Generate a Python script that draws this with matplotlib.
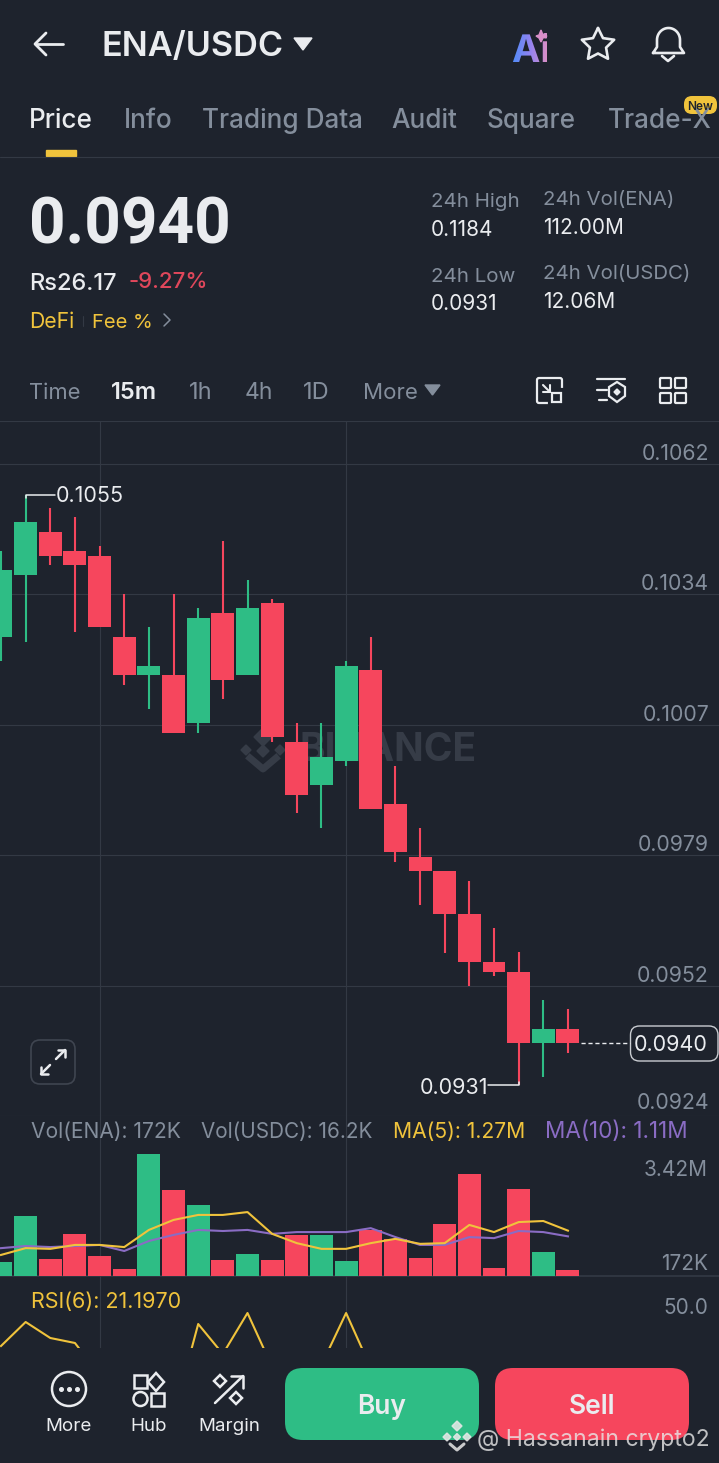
import numpy as np
import matplotlib
matplotlib.use("Agg")
import matplotlib.pyplot as plt
from matplotlib.font_manager import FontProperties
from matplotlib.patches import FancyBboxPatch, PathPatch, Polygon, Circle, Rectangle
from matplotlib.textpath import TextPath
from matplotlib.transforms import Affine2D

plt.rcParams['font.family'] = ['Inter', 'DejaVu Sans']

W, H = 719, 1463
BG = '#1e232d'
GREEN = '#2ebd85'
RED = '#f6465d'
GRAY = '#848e9c'
WHITE = '#eaecef'
YELLOW = '#f0c33c'
PURPLE = '#8a6cc4'
GRID = '#333944'
MARK = '#363c47'

opens = [.10254, .10385, .10476, .10436, .10426, .10254, .10174, .10174, .10072, .10305, .10174, .10326,
         .10032, .09941, .09992, .10184, .09901, .09788, .09759, .09668, .09566, .09545, .09395, .09424]
highs = [.10436, .10554, .10527, .10508, .10447, .10345, .10275, .10345, .10315, .10457, .10375, .10334,
         .10072, .10072, .10203, .10254, .09981, .09850, .09759, .09737, .09638, .09587, .09486, .09467]
lows = [.10203, .10243, .10406, .10265, .10275, .10152, .10102, .10051, .10051, .10123, .10174, .10032,
        .09881, .09850, .09981, .09890, .09778, .09687, .09585, .09515, .09536, .09306, .09323, .09373]
closes = [.10396, .10498, .10426, .10406, .10275, .10174, .10193, .10051, .10294, .10163, .10315, .10042,
          .09920, .10000, .10193, .09890, .09799, .09759, .09668, .09566, .09545, .09395, .09424, .09395]
volumes = [0.39, 1.68, 0.48, 1.18, 0.56, 0.20, 3.42, 2.41, 1.99, 0.45, 0.62, 0.45,
           1.15, 1.15, 0.42, 1.29, 1.04, 0.50, 1.46, 2.86, 0.22, 2.44, 0.67, 0.172]
ma5 = [0.59, 0.78, 0.76, 0.87, 0.87, 0.81, 1.29, 1.57, 1.71, 1.71, 1.79, 1.18,
       0.92, 0.76, 0.76, 0.92, 1.04, 0.90, 0.92, 1.43, 1.23, 1.51, 1.54, 1.27]
ma10 = [0.78, 0.84, 0.81, 0.84, 0.87, 0.70, 0.98, 1.15, 1.29, 1.26, 1.29, 1.18,
        1.23, 1.23, 1.23, 1.34, 1.09, 0.87, 0.87, 1.09, 1.06, 1.26, 1.23, 1.11]
rsi = [41, 53, 45, 42.5, 26.5, 25, 10, 6, 52, 37, 57.5, 30.5,
       25, 31.5, 57.5, 30, 28, 25, 23, 20, 21, 20, 21, 21.197]
price_ticks = [.1062, .10344, .10068, .09792, .09516, .0924]
time_marks = [4, 14]
tabs = ['Price', 'Info', 'Trading Data', 'Audit', 'Square', 'Trade-X']
tab_x = [29, 124, 202, 391, 487, 608]
frames = ['Time', '15m', '1h', '4h', '1D', 'More']
frame_x = [29, 111, 189, 245, 303, 363]
frame_size = [15.8, 17, 17, 16.5, 17, 16]

fig = plt.figure(figsize=(W / 100, H / 100), dpi=100, facecolor=BG)
xs = np.arange(len(opens))
XLIM = (-1 / 24.65, 718 / 24.65)


def pane(top, bottom, z=1):
    a = fig.add_axes([0, 1 - bottom / H, 1, (bottom - top) / H], zorder=z)
    a.patch.set_alpha(0)
    a.set_xlim(*XLIM)
    a.axis('off')
    return a


# things that sit behind the candles
under = fig.add_axes([0, 0, 1, 1], zorder=0)
under.set_xlim(0, W)
under.set_ylim(H, 0)
under.axis('off')
under.text(300, 761, 'BINANCE', fontsize=28, fontweight='bold', color=MARK, va='baseline')
for cx, cy, r in [(263, 737, 9), (246, 750, 5), (263, 751, 6), (280, 750, 5)]:
    under.add_patch(Polygon([(cx - r, cy), (cx, cy - r), (cx + r, cy), (cx, cy + r)], color=MARK))
under.plot([250, 263, 276], [758, 769, 758], color=MARK, lw=5)

# price pane
ax = pane(421, 1116)
scale = 47246.0
ax.set_ylim(.0924, .0924 + 695 / scale)
for p in price_ticks:
    ax.axhline(p, color=GRID, lw=0.8, zorder=1)
    off = 7 if p == price_ticks[-1] else 4
    ax.annotate(f'{p:.4f}', (709 / W, p), xycoords=('axes fraction', 'data'), xytext=(0, off * 0.72),
                textcoords='offset points', ha='right', va='baseline', color=GRAY, fontsize=15.3)
ax.axhline(.0924 + 695 / scale, color=GRID, lw=0.8)
for t in time_marks:
    ax.axvline(t, color=GRID, lw=0.8, zorder=1)
for i in xs:
    col = GREEN if closes[i] >= opens[i] else RED
    ax.vlines(i, lows[i], highs[i], color=col, lw=1.5, zorder=2)
    ax.bar(i, abs(closes[i] - opens[i]), bottom=min(opens[i], closes[i]), width=0.93, color=col, zorder=3)

# volume pane
vol = pane(1116, 1276)
vol.set_ylim(0, 160 * 0.028)
for t in time_marks:
    vol.axvline(t, color=GRID, lw=0.8, zorder=1)
vol.axhline(0, color=GRID, lw=1.2, clip_on=False)
bar_cols = [GREEN if c >= o else RED for o, c in zip(opens, closes)]
vol.bar(xs, volumes, width=0.93, color=bar_cols, zorder=2)
vol.plot(xs, ma10, color=PURPLE, lw=1.5, zorder=3)
vol.plot(xs, ma5, color=YELLOW, lw=1.5, zorder=4)

# rsi pane, line is cut at the pane bottom
rs = pane(1276, 1348)
rs.set_ylim(40, 76)
for t in time_marks:
    rs.axvline(t, color=GRID, lw=0.8, zorder=1)
rs.plot(xs, rsi, color=YELLOW, lw=1.5, zorder=2)

# overlay in screen pixels
ui = fig.add_axes([0, 0, 1, 1], zorder=5)
ui.set_xlim(0, W)
ui.set_ylim(H, 0)
ui.axis('off')
ui.patch.set_alpha(0)


def txt(x, y, s, size, color=WHITE, weight='normal', ha='left', **kw):
    return ui.text(x, y, s, fontsize=size, color=color, fontweight=weight, ha=ha, va='baseline', **kw)


def line(px, py, color=WHITE, lw=1.6, **kw):
    ui.plot(px, py, color=color, lw=lw, solid_capstyle='round', solid_joinstyle='round', **kw)


def box(x0, y0, x1, y1, r, **kw):
    ui.add_patch(FancyBboxPatch((x0 + r, y0 + r), x1 - x0 - 2 * r, y1 - y0 - 2 * r,
                                boxstyle=f'round,pad={r},rounding_size={r}', **kw))


# header
line([36, 63], [44, 44], lw=2)
line([46, 35, 46], [33, 44, 55], lw=2)
txt(102, 56, 'ENA/USDC', 24.7, WHITE, 'semibold')
ui.add_patch(Polygon([(294, 38), (312, 38), (303, 50)], color=WHITE))
# Ai mark with its blue to pink fill
ai_path = TextPath((0, 0), 'Ai', size=38, prop=FontProperties(family='Inter', weight='bold'))
ai_path = ai_path.transformed(Affine2D().scale(1, -1).translate(512, 62))
ai_clip = PathPatch(ai_path, transform=ui.transData, fc='none', ec='none')
ui.add_patch(ai_clip)
grad = ui.imshow(np.linspace(0, 1, 64).reshape(1, -1), extent=(512, 547, 62, 33), aspect='auto',
                 cmap=matplotlib.colors.LinearSegmentedColormap.from_list('ai', ['#4f8cf7', '#8f83f2', '#d98fc8']))
grad.set_clip_path(ai_clip)
ui.set_xlim(0, W)
ui.set_ylim(H, 0)
ui.add_patch(Polygon([(541, 30), (543, 35), (547, 36), (543, 38), (541, 42), (539, 38), (536, 36), (539, 35)], color='#d98fc8'))
star_a = np.linspace(-np.pi / 2, 1.5 * np.pi, 11)
star_r = np.array([17, 8.5] * 5 + [17])
line(598 + star_r * np.cos(star_a), 45 + star_r * np.sin(star_a), lw=1.9)
bell_t = np.linspace(np.pi, 2 * np.pi, 30)
line(np.r_[653, 657, 657 + 11.5 * (1 + np.cos(bell_t)), 680, 684, 653],
     np.r_[53, 47, 40 + 12 * np.sin(bell_t), 47, 53, 53], lw=1.9)
line([662, 668, 674], [56, 61, 56], lw=1.9)

# tabs
for s, x in zip(tabs, tab_x):
    txt(x, 128, s, 18.8, WHITE if s == 'Price' else GRAY, 'medium')
ui.add_patch(Rectangle((46, 150), 30, 6, color=YELLOW))
line([0, 719], [157, 157], color=GRID, lw=0.8)
box(684, 96, 717, 114, 8, color=YELLOW, lw=0)
txt(700.5, 110, 'New', 8.5, '#1e232d', 'semibold', ha='center')

# price block
txt(29, 244, '0.0940', 46, WHITE, 'bold', family='Roboto')
txt(29, 290, 'Rs26.17', 17, WHITE, 'medium')
txt(128, 288, '-9.27%', 16, '#e0475b', 'medium')
txt(29, 328, 'DeFi', 15.2, YELLOW)
txt(92, 328, 'Fee %', 14.5, YELLOW)
line([164, 170, 164], [314, 320, 326], color=GRAY, lw=1.1)
line([82.5, 82.5], [316, 326], color=GRID, lw=0.8)
txt(431, 207, '24h High', 14.8, GRAY)
txt(431, 236, '0.1184', 15, WHITE)
txt(543, 205, '24h Vol(ENA)', 14.7, GRAY)
txt(543, 234, '112.00M', 15, WHITE)
txt(431, 282, '24h Low', 14.8, GRAY)
txt(431, 310, '0.0931', 15, WHITE)
txt(543, 279, '24h Vol(USDC)', 14.7, GRAY)
txt(543, 308, '12.06M', 15, WHITE)

# timeframes
for s, x, fs in zip(frames, frame_x, frame_size):
    sel = s == '15m'
    txt(x, 399, s, fs, WHITE if sel else GRAY, 'semibold' if sel else 'normal')
ui.add_patch(Polygon([(425, 385), (440, 385), (432.5, 395)], color=GRAY))
# chart tool icons
box(537, 378, 562, 403, 2, fc='none', ec=WHITE, lw=1.6)
ui.add_patch(Rectangle((550, 390), 12, 13, fc=BG, ec=BG, lw=3))
ui.add_patch(Rectangle((552, 393), 9, 9, fc='none', ec=WHITE, lw=1.6))
line([543, 550], [385, 392], lw=1.5)
line([543, 550, 550], [392, 392, 385], lw=1.5)
line([597, 625], [379, 379], lw=1.6)
line([597, 607], [390, 390], lw=1.6)
line([599, 607], [400, 400], lw=1.6)
ui.add_patch(Polygon([(617, 382), (625, 387), (625, 396), (617, 402), (609, 396), (609, 387)], fc='none', ec=WHITE, lw=1.6))
ui.add_patch(Polygon([(617, 389), (620, 392), (617, 395), (614, 392)], color=WHITE))
for x0 in (660, 675):
    for y0 in (378, 393):
        box(x0, y0, x0 + 11, y0 + 10, 1, fc='none', ec=WHITE, lw=1.6)

# high / low callouts and last price
px_x = lambda i: 1 + 24.65 * i
px_y = lambda p: 1116 - (p - .0924) * scale
hi = int(np.argmax(highs))
lo = int(np.argmin(lows))
line([px_x(hi), px_x(hi), 55], [px_y(highs[hi]) + 3, px_y(highs[hi]), px_y(highs[hi])], lw=1.1)
txt(56, 502, f'{highs[hi]:.4f}', 15.5, WHITE)
line([px_x(lo), px_x(lo), 488], [px_y(lows[lo]) - 3, px_y(lows[lo]), px_y(lows[lo])], lw=1.1)
txt(420, 1094, f'{lows[lo]:.4f}', 15.5, WHITE)
ui.plot([581, 630], [px_y(closes[-1])] * 2, color=WHITE, lw=1, ls=(0, (3, 2)))
box(630.5, 1026, 718, 1061, 9, fc=BG, ec='#c9ccd1', lw=1)
txt(708, 1051, '0.0940', 15.5, WHITE, ha='right')
# expand button
box(31, 1040, 75, 1084, 9, fc=BG, ec='#3f4550', lw=1.2)
line([41, 50], [1074, 1065], lw=1.8)
line([41, 41, 48], [1067, 1074, 1074], lw=1.8)
line([56, 65], [1059, 1050], lw=1.8)
line([58, 65, 65], [1050, 1050, 1057], lw=1.8)

# indicator labels
txt(31, 1138, 'Vol(ENA): 172K', 15.1, GRAY)
txt(201, 1138, 'Vol(USDC): 16.2K', 14.9, GRAY)
txt(393, 1138, 'MA(5): 1.27M', 15.2, YELLOW)
txt(545, 1138, 'MA(10): 1.11M', 16.2, PURPLE)
txt(708, 1176, '3.42M', 15, GRAY, ha='right')
txt(708, 1270, '172K', 15, GRAY, ha='right')
txt(31, 1308, 'RSI(6): 21.1970', 15.5, YELLOW)
txt(708, 1314, '50.0', 15, GRAY, ha='right')

# bottom bar
ui.add_patch(Circle((69, 1389), 17, fc='none', ec=WHITE, lw=1.8))
ui.plot([61, 69, 77], [1389] * 3, ls='none', marker='o', ms=2.6, color=WHITE)
ui.add_patch(Rectangle((134, 1375), 13, 13, fc='none', ec=WHITE, lw=1.8))
ui.add_patch(Polygon([(156, 1373), (164, 1382), (156, 1391), (148, 1382)], fc='none', ec=WHITE, lw=1.8))
ui.add_patch(Circle((140.5, 1399), 7, fc='none', ec=WHITE, lw=1.8))
ui.add_patch(Rectangle((151, 1393), 13, 13, fc='none', ec=WHITE, lw=1.8))
line([215, 243], [1403, 1376], lw=1.8)
line([231, 243, 243], [1376, 1376, 1388], lw=1.8)
ui.add_patch(Polygon([(220, 1375), (226, 1381), (220, 1387), (214, 1381)], fc='none', ec=WHITE, lw=1.8))
ui.add_patch(Polygon([(236, 1392), (242, 1398), (236, 1404), (230, 1398)], fc='none', ec=WHITE, lw=1.8))
txt(69, 1431, 'More', 13.5, WHITE, ha='center')
txt(149, 1431, 'Hub', 13.5, WHITE, ha='center')
txt(229, 1431, 'Margin', 13.5, WHITE, ha='center')
box(285, 1368, 479, 1440, 18, color=GREEN, lw=0)
box(495, 1368, 689, 1440, 18, color=RED, lw=0)
txt(382, 1414, 'Buy', 19, WHITE, 'semibold', ha='center')
txt(592, 1414, 'Sell', 19, WHITE, 'semibold', ha='center')

# repost watermark
for cx, cy, r in [(457, 1426, 5), (447, 1437, 4), (457, 1437, 3.5), (467, 1437, 4)]:
    ui.add_patch(Polygon([(cx - r, cy), (cx, cy - r), (cx + r, cy), (cx, cy + r)], color='#e8e8e8', alpha=0.85))
line([450, 457, 464], [1444, 1450, 1444], color='#e8e8e8', lw=2.2, alpha=0.85)
txt(477, 1446, '@ Hassanain crypto2', 16.6, '#e8e8e8', alpha=0.8)

fig.savefig('out.png', dpi=100, facecolor=BG)
